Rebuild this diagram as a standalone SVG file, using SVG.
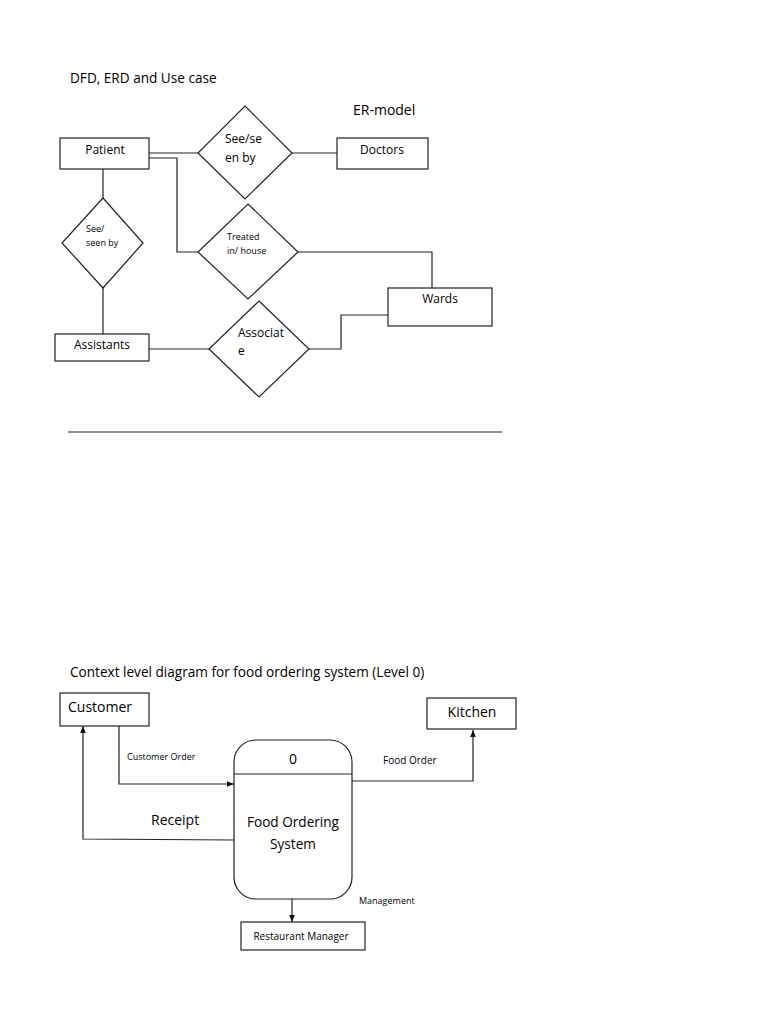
<svg xmlns="http://www.w3.org/2000/svg" width="768" height="1024" viewBox="0 0 768 1024">
<defs>
<style>
text{font-family:"Open Sans","Liberation Sans",sans-serif;fill:#000}
.box{fill:#fff;stroke:#222;stroke-width:1.2}
.ln{fill:none;stroke:#222;stroke-width:1.2}
.t14{font-size:14px}
.ttl{font-size:13.6px}
.t12{font-size:12px}
.t10{font-size:10px}
.t9{font-size:9px}
.c{text-anchor:middle}
</style>
<marker id="ah" viewBox="0 0 10 10" refX="10" refY="5" markerWidth="7" markerHeight="7" orient="auto-start-reverse" markerUnits="userSpaceOnUse">
<path d="M0,1 L10,5 L0,9 Z" fill="#111"/>
</marker>
</defs>
<rect width="768" height="1024" fill="#fff"/>
<text x="70" y="83" class="ttl">DFD, ERD and Use case</text>
<text x="353" y="115" class="t14">ER-model</text>

<g id="connectors">
<path class="ln" d="M149,153 H198"/>
<path class="ln" d="M149,158 H177 V252 H198"/>
<path class="ln" d="M292,153 H337"/>
<path class="ln" d="M298,252 H432 V288"/>
<path class="ln" d="M103,169 V198"/>
<path class="ln" d="M103,288 V334"/>
<path class="ln" d="M149,349 H209"/>
<path class="ln" d="M309,349 H341 V315 H388"/>
<path class="ln" d="M68,432 H502"/>
<path class="ln" d="M119,726 V784 H234" marker-end="url(#ah)"/>
<path class="ln" d="M234,840 L83,839 V726" marker-end="url(#ah)"/>
<path class="ln" d="M352,781 H473 V730" marker-end="url(#ah)"/>
<path class="ln" d="M292,899 V922" marker-end="url(#ah)"/>
</g>

<g id="patient"><rect class="box" x="60" y="138" width="89" height="31"/><text x="105" y="154" class="t12 c">Patient</text></g>
<g id="see-seen-by-doctor"><polygon class="box" points="245,106 292,153 245,199 198,153"/><text x="225" y="143" class="t12">See/se</text><text x="225" y="162" class="t12">en by</text></g>
<g id="doctors"><rect class="box" x="337" y="138" width="91" height="31"/><text x="382" y="154" class="t12 c">Doctors</text></g>
<g id="treated"><polygon class="box" points="248,204 298,252 248,299 198,252"/><text x="227" y="240" class="t9">Treated</text><text x="227" y="254" class="t9">in/ house</text></g>
<g id="wards"><rect class="box" x="388" y="288" width="104" height="38"/><text x="440" y="303" class="t12 c">Wards</text></g>
<g id="see-seen-by-assistant"><polygon class="box" points="103,198 143,243 103,288 62,243"/><text x="86" y="232" class="t9">See/</text><text x="86" y="246" class="t9">seen by</text></g>
<g id="assistants"><rect class="box" x="55" y="334" width="94" height="27"/><text x="102" y="349" class="t12 c">Assistants</text></g>
<g id="associate"><polygon class="box" points="259,301 309,349 259,397 209,349"/><text x="238" y="337" class="t12">Associat</text><text x="238" y="355" class="t12">e</text></g>

<text x="70" y="677" class="ttl">Context level diagram for food ordering system (Level 0)</text>
<g id="customer"><rect class="box" x="60" y="693" width="89" height="33"/><text x="68" y="712" class="t14">Customer</text></g>
<g id="kitchen"><rect class="box" x="427" y="698" width="89" height="31"/><text x="472" y="717" class="t14 c">Kitchen</text></g>
<g id="process"><rect class="box" x="234" y="740" width="118" height="159" rx="22" ry="22"/><path class="ln" d="M234,774 H352"/><text x="293" y="764" class="t14 c">0</text><text x="293" y="827" class="ttl c">Food Ordering</text><text x="293" y="849" class="ttl c">System</text></g>
<g id="manager"><rect class="box" x="241" y="922" width="124" height="28"/><text x="301" y="940" class="t10 c">Restaurant Manager</text></g>

<text x="127" y="760" class="t9">Customer Order</text>
<text x="151" y="825" class="t14">Receipt</text>
<text x="383" y="764" class="t10">Food Order</text>
<text x="359" y="904" class="t9">Management</text>
</svg>
